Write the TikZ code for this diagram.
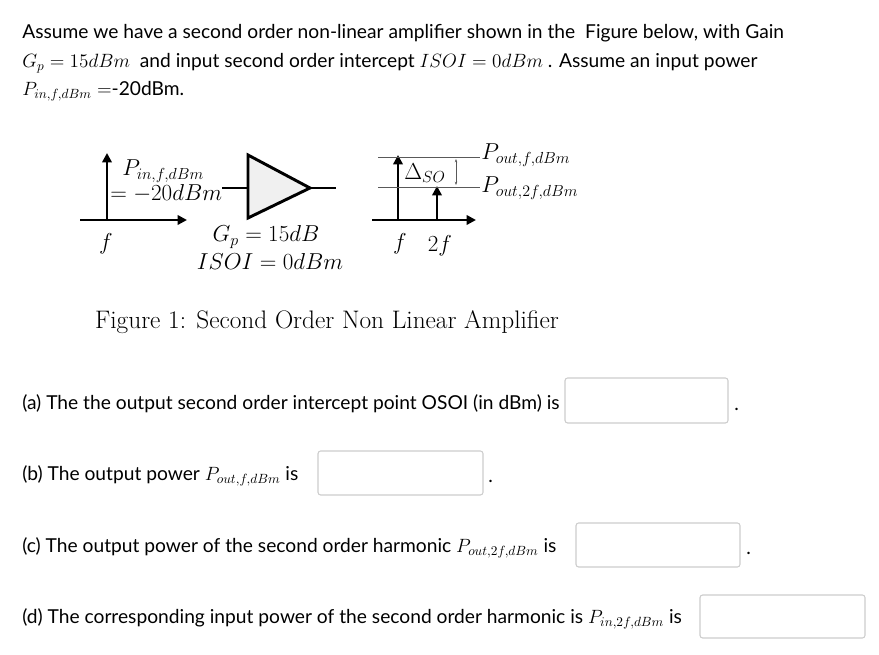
\documentclass[tikz,border=0pt]{standalone}
\usepackage{fontspec}
\setmainfont{Lato}
\usetikzlibrary{arrows.meta}
\begin{document}
\begin{tikzpicture}[x=0.75pt,y=-0.75pt,
  txt/.style={anchor=mid west,inner sep=0pt,font=\fontsize{14.4pt}{16pt}\selectfont},
  fig/.style={inner sep=0pt,font=\fontsize{17pt}{19pt}\selectfont},
  ax/.style={line width=2.2pt,-{Triangle[length=7pt,width=7pt]}},
  thin/.style={line width=0.4pt,gray!70!black},
  ansbox/.style={draw=gray!40,rounded corners=2pt,line width=0.8pt}]
\useasboundingbox (0,0) rectangle (879,655);
\node[txt] (l1) at (22,35) {Assume we have a second order non-linear amplifier shown in the\ \ Figure below, with Gain};
\node[txt] (l2) at (22,64) {$G_p = 15dBm$\ \ and input second order intercept $ISOI = 0dBm$ . Assume an input power};
\node[txt] (l3) at (22,92) {$P_{in,f,dBm}=$-20dBm.};
% left spectrum
\coordinate (la0) at (80,220); \coordinate (la1) at (187,220);
\draw[ax] (la0) -- (la1);
\coordinate (lv0) at (107,221); \coordinate (lv1) at (107,153);
\draw[ax] (lv0) -- (lv1);
\node[fig,anchor=west] (pin) at (122,171) {$P_{in,f,dBm}$};
\node[fig,anchor=west] (pv) at (110,193) {$= -20dBm$};
\node[fig] (lf) at (106,244) {$f$};
% amplifier
\coordinate (ai) at (222,188); \coordinate (ao) at (336,188);
\coordinate (t1) at (248,155); \coordinate (t2) at (248,218); \coordinate (tip) at (310,188);
\draw[line width=2.2pt,fill=gray!12,line join=miter] (t1) -- (tip) -- (t2) -- cycle;
\draw[line width=2.2pt] (ai) -- (t1 |- ai);
\draw[line width=2.2pt] (tip) -- (ao);
\node[fig] (gp) at (266,237) {$G_p = 15dB$};
\node[fig] (isoi) at (270,262) {$ISOI = 0dBm$};
% right spectrum
\coordinate (ra0) at (372,220); \coordinate (ra1) at (476,220);
\draw[ax] (ra0) -- (ra1);
\coordinate (rv0) at (398,221); \coordinate (rv1) at (398,155);
\draw[ax] (rv0) -- (rv1);
\coordinate (sv0) at (437,221); \coordinate (sv1) at (437,186);
\draw[ax] (sv0) -- (sv1);
\coordinate (h1a) at (378,157); \coordinate (h1b) at (480,157);
\coordinate (h2a) at (378,187); \coordinate (h2b) at (480,187);
\draw[thin] (h1a) -- (h1b); \draw[thin] (h2a) -- (h2b);
\coordinate (d0) at (456,159); \coordinate (d1) at (456,185);
\draw[thin,{Stealth[length=2.5pt]}-{Stealth[length=2.5pt]}] (d0) -- (d1);
\node[fig] (dso) at (425,173) {$\Delta_{SO}$};
\node[fig,anchor=west] (pof) at (481,155) {$P_{out,f,dBm}$};
\node[fig,anchor=west] (po2f) at (481,188) {$P_{out,2f,dBm}$};
\node[fig] (rf) at (400,244) {$f$};
\node[fig] (r2f) at (440,246) {$2f$};
% caption
\node[inner sep=0pt,font=\fontspec{Latin Modern Roman}\fontsize{19pt}{21pt}\selectfont] (cap) at (327,322) {Figure 1: Second Order Non Linear Amplifier};
% questions
\node[txt] (qa) at (22,406) {(a) The the output second order intercept point OSOI (in dBm) is};
\draw[ansbox] (565,378) rectangle (728,423); \node[txt] (da) at (734,407) {.};
\node[txt] (qb) at (22,477) {(b) The output power $P_{out,f,dBm}$ is};
\draw[ansbox] (318,451) rectangle (483,495); \node[txt] (db) at (488,479) {.};
\node[txt] (qc) at (22,549) {(c) The output power of the second order harmonic $P_{out,2f,dBm}$ is};
\draw[ansbox] (576,523) rectangle (740,567); \node[txt] (dc) at (746,551) {.};
\node[txt] (qd) at (22,620) {(d) The corresponding input power of the second order harmonic is $P_{in,2f,dBm}$ is};
\draw[ansbox] (700,595) rectangle (865,638);
\end{tikzpicture}
\end{document}
